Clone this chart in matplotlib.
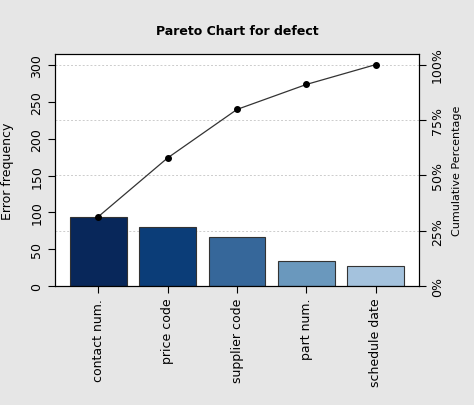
import matplotlib
matplotlib.use("Agg")
import matplotlib.pyplot as plt
import numpy as np

categories = ["contact num.", "price code", "supplier code", "part num.", "schedule date"]
counts = [94, 80, 66, 34, 27]
colors = ["#08275a", "#0b3d78", "#36679a", "#6a98bd", "#a4c2dd"]

total = sum(counts)
cum = np.cumsum(counts)

fig = plt.figure(figsize=(4.74, 4.06), dpi=100, facecolor="#e6e6e6")
ax = fig.add_axes([0.116, 0.293, 0.768, 0.572])
ax.set_facecolor("white")
x = np.arange(len(categories))
ax.bar(x, counts, width=0.82, color=colors, edgecolor="#333333", linewidth=0.8, zorder=2)
ax.set_xlim(-0.62, 4.62)
ax.set_ylim(0, 315.6)
for p in [0.25, 0.5, 0.75, 1.0]:
    ax.axhline(p * total, color="#cccccc", linestyle=(0, (2, 2)), linewidth=0.7, zorder=1)
ax.plot(x, cum, color="#333333", linewidth=0.9, zorder=3)
ax.plot(x, cum, "o", color="black", markersize=4, zorder=4)
ax.set_xticks(x)
ax.set_xticklabels(categories, rotation=90, fontsize=9)
ax.set_yticks([0, 50, 100, 150, 200, 250, 300])
ax.set_yticklabels(["0", "50", "100", "150", "200", "250", "300"], rotation=90, va="center", fontsize=9)
ax.set_ylabel("Error frequency", fontsize=9, labelpad=12)
ax.tick_params(direction="out", length=5)
ax2 = ax.twinx()
ax2.set_ylim(ax.get_ylim())
ax2.set_yticks([p * total for p in [0, 0.25, 0.5, 0.75, 1.0]])
ax2.set_yticklabels(["0%", "25%", "50%", "75%", "100%"], rotation=90, va="center", fontsize=9)
ax2.set_ylabel("Cumulative Percentage", fontsize=8, labelpad=6)
ax2.tick_params(direction="out", length=5)
fig.text(0.5, 0.915, "Pareto Chart for defect", ha="center", fontsize=9, fontweight="bold")
fig.savefig("out.png", dpi=100, facecolor=fig.get_facecolor())
